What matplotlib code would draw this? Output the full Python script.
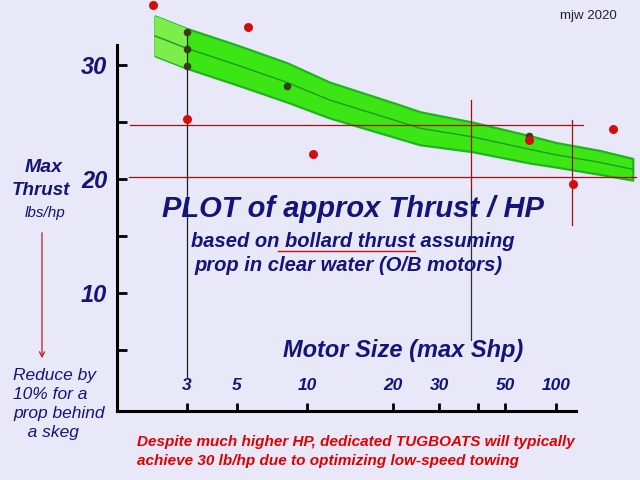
import numpy as np
import matplotlib
matplotlib.use("Agg")
import matplotlib.pyplot as plt
from matplotlib.lines import Line2D

plt.rcParams['font.family'] = ['Liberation Sans', 'DejaVu Sans']

# hand drawn x axis: roughly logarithmic, calibrated on its tick marks
scale_hp = [0.01, 1, 3, 5, 10, 20, 30, 40, 50, 100, 400, 10000]
scale_px = [-370, 80, 187, 237, 307, 393, 439, 478, 505, 556, 658, 896]

x_ticks = [3, 5, 10, 20, 30, 40, 50, 100]
x_labels = ['3', '5', '10', '20', '30', '', '50', '100']
y_ticks = [5, 10, 15, 20, 25, 30]
y_labels = ['', '10', '', '20', '', '30']

# green band (upper / lower edge, lbs/hp)
band_hp = [2.16, 3, 5, 8.2, 12, 20, 25.4, 38.3, 70, 100, 182, 284]
band_top = [34.3, 33.2, 31.75, 30.2, 28.5, 26.7, 25.9, 25.0, 23.8, 23.2, 22.5, 21.8]
band_low = [30.8, 29.7, 28.25, 26.75, 25.35, 23.7, 23.0, 22.4, 21.4, 21.05, 20.4, 19.9]

# dark points on the band
dots_hp = [3, 3, 3, 8.2, 69]
dots_thrust = [32.9, 31.4, 29.9, 28.2, 23.8]

# red measured points
red_hp = [2.12, 5.6, 3.0, 10.5, 69.5, 126, 217]
red_thrust = [35.3, 33.3, 25.3, 22.2, 23.4, 19.6, 24.4]

# guide lines
h_thrust = [24.7, 20.2]
h_from = [1.67, 1.65]
h_to = [144, 295]

NAVY = '#14147a'
BG = '#e8e8f8'
DRED = '#a01010'

log_a = np.log10(scale_hp)


def fwd(x):
    x = np.clip(np.asarray(x, dtype=float), 1e-6, None)
    return np.interp(np.log10(x), log_a, scale_px)


def inv(p):
    return 10 ** np.interp(np.asarray(p, dtype=float), scale_px, log_a)


def fp(x, y):
    # top-left pixel -> figure fraction
    return x / 640, 1 - y / 480


fig = plt.figure(figsize=(6.4, 4.8), dpi=100, facecolor=BG)
ax = fig.add_axes([117 / 640, 1 - 411 / 480, 523 / 640, 411 / 480])
ax.patch.set_visible(False)
ax.set_xscale('function', functions=(fwd, inv))
ax.set_xlim(float(inv(117)), float(inv(640)))
ax.set_ylim(-0.35, 35.7)

# band
ax.fill_between(band_hp, band_low, band_top, facecolor='#3ce614',
                edgecolor='#1fb41f', linewidth=1.6, zorder=2)
ax.fill_between(band_hp[:2], band_low[:2], band_top[:2], facecolor='#7cee4c',
                edgecolor='none', zorder=2)
mid = [(a + b) / 2 for a, b in zip(band_top, band_low)]
ax.plot(band_hp, mid, color='#1e9a1e', lw=1, zorder=3)

# guide lines
for t, a, b in zip(h_thrust, h_from, h_to):
    ax.plot([a, b], [t, t], color=DRED, lw=0.9, zorder=4)
ax.plot([3, 3], [2.6, 33.1], color='#202020', lw=0.9, zorder=4)
ax.plot([38.1, 38.1], [19.0, 26.9], color=DRED, lw=0.9, zorder=4)
ax.plot([38.1, 38.1], [5.9, 19.0], color='#303030', lw=0.9, zorder=4)
ax.plot([125, 125], [16.0, 25.2], color=DRED, lw=0.9, zorder=4)

ax.scatter(dots_hp, dots_thrust, s=30, color='#3a3a1a', zorder=5, linewidths=0)
ax.scatter(red_hp, red_thrust, s=42, color='#d40c0c', zorder=6, linewidths=0)

# axes look
for s in ['top', 'right']:
    ax.spines[s].set_visible(False)
ax.spines['left'].set_linewidth(2.2)
ax.spines['bottom'].set_linewidth(2.2)
ax.spines['left'].set_bounds(-0.35, 31.75)
ax.spines['bottom'].set_bounds(float(inv(117)), float(inv(576)))

ax.set_xticks(x_ticks)
ax.set_xticklabels(x_labels)
ax.set_yticks(y_ticks)
ax.set_yticklabels(y_labels)
ax.minorticks_off()
ax.tick_params(axis='x', direction='in', length=6, width=2, pad=-24,
               labelsize=12.5, labelcolor=NAVY)
ax.tick_params(axis='y', direction='in', length=7, width=2, pad=7,
               labelsize=17, labelcolor=NAVY)
for lab in ax.get_xticklabels() + ax.get_yticklabels():
    lab.set_fontweight('bold')
    lab.set_fontstyle('italic')

# texts
bi = dict(fontweight='bold', fontstyle='italic', color=NAVY, va='baseline')
fig.text(*fp(162, 217), 'PLOT of approx Thrust / HP', fontsize=21, **bi)
fig.text(*fp(191, 247), 'based on bollard thrust assuming', fontsize=14.5, **bi)
fig.text(*fp(194, 271), 'prop in clear water (O/B motors)', fontsize=14.5, **bi)
fig.add_artist(Line2D([278 / 640, 415 / 640], [1 - 251 / 480, 1 - 251 / 480],
                      transform=fig.transFigure, color='#cc1010', lw=1))
fig.text(*fp(283, 357), 'Motor Size (max Shp)', fontsize=17, **bi)

fig.text(*fp(44, 172), 'Max', fontsize=14, ha='center', **bi)
fig.text(*fp(41, 195), 'Thrust', fontsize=13.5, ha='center', **bi)
fig.text(*fp(45, 217), 'lbs/hp', fontsize=11, ha='center', fontstyle='italic',
         color=NAVY, va='baseline')
ax.annotate('', xy=fp(42, 361), xytext=fp(42, 230), xycoords='figure fraction',
            textcoords='figure fraction',
            arrowprops=dict(arrowstyle='->', color='#b02020', lw=0.9,
                            mutation_scale=9))

note = ['Reduce by', '10% for a', 'prop behind', '   a skeg']
for i, line in enumerate(note):
    fig.text(*fp(13, 380 + 19 * i), line, fontsize=12.5, fontstyle='italic',
             color=NAVY, va='baseline')

fig.text(*fp(560, 19), 'mjw 2020', fontsize=9.5, color='#202040', va='baseline')

red = dict(fontweight='bold', fontstyle='italic', color='#e00000', va='baseline',
           fontsize=11)
fig.text(*fp(137, 446), 'Despite much higher HP, dedicated TUGBOATS will typically', **red)
fig.text(*fp(137, 465), 'achieve 30 lb/hp due to optimizing low-speed towing', **red)

fig.savefig('out.png', dpi=100, facecolor=BG)
